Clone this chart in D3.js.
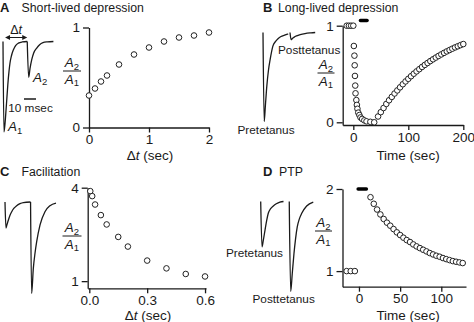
<!DOCTYPE html>
<html><head><meta charset="utf-8">
<script src="https://cdn.jsdelivr.net/npm/d3@7"></script>
<style>
body{margin:0;background:#fff;}
svg{display:block;font-family:"Liberation Sans",Arial,Helvetica,sans-serif;}
</style></head><body>
<svg id="c" width="474" height="322"></svg>
<script>
// ---------- Panel A: short-lived depression ----------
const aDt = [0, 0.1, 0.2, 0.3, 0.5, 0.75, 1, 1.25, 1.5, 1.75, 2];
const aRatio = [0.32, 0.39, 0.46, 0.52, 0.63, 0.73, 0.80, 0.86, 0.90, 0.92, 0.95];
const aXTicks = [0, 1, 2];
const aYTicks = [0, 1];

// ---------- Panel B: long-lived depression ----------
const bPreTime = [-12, -8, -4, 0];
const bPreRatio = [1, 1, 1, 1];
const bTetanus = [13, 25];
const bPostTime = [1, 2, 2.5, 3, 3.5, 4, 5.5, 6.5, 7.5, 9, 11, 13, 16, 20, 24, 31, 38,
  45, 50, 55, 60, 65, 70, 75, 80, 85, 90, 95, 100, 105, 110, 115, 120, 125, 130, 135, 140,
  145, 150, 155, 160, 165, 170, 175, 180, 185, 190, 195, 200];
const bPostRatio = [0.79, 0.69, 0.59, 0.48, 0.38, 0.30, 0.23, 0.18, 0.14, 0.10, 0.075, 0.05, 0.035, 0.02, 0.01, 0.005, 0.0,
  0.06, 0.105, 0.148, 0.19, 0.228, 0.263, 0.298, 0.33, 0.362, 0.394, 0.423, 0.45, 0.477, 0.503, 0.527, 0.55, 0.573, 0.594, 0.614, 0.634,
  0.652, 0.67, 0.687, 0.703, 0.719, 0.734, 0.748, 0.762, 0.775, 0.787, 0.799, 0.81];
const bXTicks = [0, 100, 200];
const bYTicks = [0, 1];

// ---------- Panel C: facilitation ----------
const cDt = [0.005, 0.015, 0.03, 0.06, 0.09, 0.15, 0.2, 0.3, 0.4, 0.5, 0.6];
const cRatio = [3.89, 3.73, 3.46, 3.12, 2.82, 2.42, 2.11, 1.66, 1.41, 1.23, 1.15];
const cXTicks = [0, 0.3, 0.6];
const cYTicks = [1, 4];

// ---------- Panel D: PTP ----------
const dPreTime = [-15, -10, -5];
const dPreRatio = [1, 1, 1];
const dTetanus = [-1, 9];
const dPostTime = [14, 18, 22, 26, 30, 34, 38, 42, 46, 50, 54, 58, 62, 66, 70, 74, 78, 82, 86, 90, 94, 98, 102, 106, 110, 114, 118, 122, 126];
const dPostRatio = [1.90, 1.82, 1.75, 1.69, 1.635, 1.59, 1.553, 1.512, 1.472, 1.439, 1.407, 1.378, 1.354, 1.325, 1.301, 1.28, 1.26, 1.24, 1.22, 1.203, 1.187, 1.175, 1.159, 1.146, 1.134, 1.122, 1.114, 1.106, 1.098];
const dXTicks = [0, 50, 100];
const dYTicks = [1, 2];

// ---------- Example current traces (ms, fraction of peak) ----------
const trA1Time = [0, 0.8, 1.6, 2.3, 3.1, 4, 5, 5.8, 7, 8.6, 10.5, 12.8, 16, 20.2];
const trA1Amp  = [0, 1, 0.92, 0.8, 0.65, 0.48, 0.33, 0.24, 0.16, 0.094, 0.045, 0.018, 0.005, 0];
const trA2Time = [20.2, 21.4, 22.5, 23.9, 25.5, 28.1, 30.5, 33.3, 37, 42];
const trA2Amp  = [0, 0.395, 0.30, 0.204, 0.13, 0.072, 0.035, 0.013, 0.004, 0];
const trBPreTime = [0, 1, 2, 3.2, 4.5, 6, 8.3, 10.5, 12.5, 15, 18, 21];
const trBPreAmp  = [0, 1, 0.82, 0.6, 0.43, 0.3, 0.15, 0.1, 0.07, 0.045, 0.03, 0.015];
const trBPostTime = [22.5, 23.4, 24.5, 26, 28, 31, 35, 40, 43.5];
const trBPostAmp  = [0, 0.08, 0.068, 0.052, 0.038, 0.024, 0.012, 0.004, 0];
const trC1Time = [0, 0.8, 1.6, 2.75, 4, 5.6, 7.5, 9.7, 12.5, 15.3, 21.3];
const trC1Amp  = [0, 0.285, 0.25, 0.2, 0.15, 0.106, 0.068, 0.04, 0.018, 0.006, 0];
const trC2Time = [21.3, 22.2, 23.6, 25, 26.4, 29.2, 33.3, 37.5, 42.5];
const trC2Amp  = [0, 1, 0.725, 0.56, 0.434, 0.25, 0.106, 0.04, 0.012];
const trDPreTime = [0, 1.1, 2.2, 3.6, 5, 6.3, 8.3, 10.5, 13, 16, 19];
const trDPreAmp  = [0, 0.505, 0.43, 0.317, 0.21, 0.131, 0.08, 0.05, 0.025, 0.006, 0];
const trDPostTime = [23.8, 25, 26.3, 27.75, 29, 30.5, 32.3, 34.2, 38.3, 43.8];
const trDPostAmp  = [0, 1, 0.8, 0.575, 0.42, 0.28, 0.19, 0.131, 0.05, 0.006];

const INK = "#1a1a1a";
const FS = "13.5px";
const svg = d3.select("#c");

function zip(a, b) { return a.map((v, i) => [v, b[i]]); }

function drawAxes(x, y, xTicks, yTicks, xFmt, yFmt) {
  const gx = svg.append("g").attr("transform", `translate(0,${y.range()[0]})`)
    .call(d3.axisBottom(x).tickValues(xTicks).tickFormat(xFmt).tickSize(5).tickSizeOuter(0).tickPadding(2));
  const gy = svg.append("g").attr("transform", `translate(${x.range()[0]},0)`)
    .call(d3.axisLeft(y).tickValues(yTicks).tickFormat(yFmt).tickSize(6).tickSizeOuter(0).tickPadding(3));
  [gx, gy].forEach(g => {
    g.selectAll("path,line").attr("stroke", INK).attr("stroke-width", 1.3);
    g.selectAll("text").attr("fill", INK).style("font-size", FS);
  });
  return [gx, gy];
}

function drawPoints(x, y, xs, ys) {
  svg.append("g").selectAll("circle").data(zip(xs, ys)).join("circle")
    .attr("cx", d => x(d[0])).attr("cy", d => y(d[1])).attr("r", 2.8)
    .attr("fill", "#fff").attr("stroke", "#222").attr("stroke-width", 1);
}

function drawBar(x, y, span, level) {
  svg.append("line").attr("x1", x(span[0])).attr("x2", x(span[1]))
    .attr("y1", y(level)).attr("y2", y(level))
    .attr("stroke", "#000").attr("stroke-width", 3.5).attr("stroke-linecap", "round");
}

function drawTrace(x, y, ts, as) {
  svg.append("path").datum(zip(ts, as))
    .attr("d", d3.line().x(d => x(d[0])).y(d => y(d[1])).curve(d3.curveMonotoneX))
    .attr("fill", "none").attr("stroke", INK).attr("stroke-width", 1.3);
}

function aSub(sel, sub) {
  sel.append("tspan").attr("font-style", "italic").text("A");
  sel.append("tspan").attr("dy", 2.5).style("font-size", "9.5px").text(sub);
}

function fraction(cx, lineY, halfW) {
  const t1 = svg.append("text").attr("x", cx).attr("y", lineY - 3.8).attr("text-anchor", "middle")
    .attr("fill", INK).style("font-size", FS);
  aSub(t1, "2");
  svg.append("line").attr("x1", cx - halfW).attr("x2", cx + halfW).attr("y1", lineY).attr("y2", lineY)
    .attr("stroke", INK).attr("stroke-width", 1);
  const t2 = svg.append("text").attr("x", cx).attr("y", lineY + 12.5).attr("text-anchor", "middle")
    .attr("fill", INK).style("font-size", FS);
  aSub(t2, "1");
}

function title(xLetter, xText, yBase, letter, txt) {
  svg.append("text").attr("x", xLetter).attr("y", yBase).attr("font-weight", "bold")
    .attr("fill", INK).style("font-size", "13px").text(letter);
  svg.append("text").attr("x", xText).attr("y", yBase)
    .attr("fill", INK).style("font-size", "12.3px").text(txt);
}

function label(x, yb, txt, anchor) {
  svg.append("text").attr("x", x).attr("y", yb).attr("text-anchor", anchor || "start")
    .attr("fill", INK).style("font-size", "11.8px").text(txt);
}

function dtTitle(cx, yb) {
  const t = svg.append("text").attr("x", cx).attr("y", yb).attr("text-anchor", "middle")
    .attr("fill", INK).style("font-size", FS);
  t.append("tspan").text("\u0394");
  t.append("tspan").attr("font-style", "italic").text("t");
  t.append("tspan").text(" (sec)");
}
function timeTitle(cx, yb) {
  svg.append("text").attr("x", cx).attr("y", yb).attr("text-anchor", "middle")
    .attr("fill", INK).style("font-size", FS).text("Time (sec)");
}

// ===== Panel A =====
title(0, 21.5, 11.5, "A", "Short-lived depression");
{
  const x = d3.scaleLinear().domain([0, 2]).range([89, 209]);
  const y = d3.scaleLinear().domain([0, 1]).range([127.5, 27.5]);
  drawAxes(x, y, aXTicks, aYTicks, d3.format("d"), d3.format("d"));
  drawPoints(x, y, aDt, aRatio);
  dtTitle(150, 159.5);
  fraction(72, 71, 9);
  const tx = d3.scaleLinear().domain([0, 10]).range([3, 15]);
  const ty = d3.scaleLinear().domain([0, 1]).range([41.5, 132]);
  drawTrace(tx, ty, trA1Time, trA1Amp);
  drawTrace(tx, ty, trA2Time, trA2Amp);
  const ay = 37.5, ax1 = tx(1.7), ax2 = tx(20.2);
  svg.append("line").attr("x1", ax1 + 2).attr("x2", ax2 - 2).attr("y1", ay).attr("y2", ay)
    .attr("stroke", INK).attr("stroke-width", 1);
  svg.append("path").attr("d", `M${ax1},${ay}l5,-2.5v5z M${ax2},${ay}l-5,-2.5v5z`).attr("fill", INK);
  const dt = svg.append("text").attr("x", (ax1 + ax2) / 2).attr("y", 33.5).attr("text-anchor", "middle")
    .attr("fill", INK).style("font-size", "12.5px");
  dt.append("tspan").text("\u0394");
  dt.append("tspan").attr("font-style", "italic").text("t");
  svg.append("line").attr("x1", tx(17.5)).attr("x2", tx(27.5)).attr("y1", 99).attr("y2", 99)
    .attr("stroke", INK).attr("stroke-width", 1.5);
  label(30.5, 111.5, "10 msec", "middle");
  const l2 = svg.append("text").attr("x", 33).attr("y", 82).attr("fill", INK).style("font-size", FS);
  aSub(l2, "2");
  const l1 = svg.append("text").attr("x", 8).attr("y", 131).attr("fill", INK).style("font-size", FS);
  aSub(l1, "1");
}

// ===== Panel B =====
title(263, 278, 11.5, "B", "Long-lived depression");
{
  const x = d3.scaleLinear().domain([-19.3, 200]).range([342.7, 463.3]);
  const y = d3.scaleLinear().domain([-0.028, 1]).range([125, 25.7]);
  drawAxes(x, y, bXTicks, bYTicks, d3.format("d"), d3.format("d"));
  drawBar(x, y, bTetanus, 1.055);
  drawPoints(x, y, bPreTime, bPreRatio);
  drawPoints(x, y, bPostTime, bPostRatio);
  timeTitle(408, 159.5);
  fraction(326, 73, 8.5);
  const tx = d3.scaleLinear().domain([0, 10]).range([263, 275]);
  const ty = d3.scaleLinear().domain([0, 1]).range([32.5, 121.5]);
  drawTrace(tx, ty, trBPreTime, trBPreAmp);
  drawTrace(tx, ty, trBPostTime, trBPostAmp);
  label(278, 53.5, "Posttetanus");
  label(237.5, 134, "Pretetanus");
}

// ===== Panel C =====
title(0, 21.5, 176, "C", "Facilitation");
{
  const x = d3.scaleLinear().domain([-0.0083, 0.605]).range([87.7, 206]);
  const y = d3.scaleLinear().domain([0.77, 4]).range([288.3, 187.7]);
  drawAxes(x, y, cXTicks, cYTicks, d3.format(".1f"), d3.format("d"));
  drawPoints(x, y, cDt, cRatio);
  dtTitle(148, 319.5);
  fraction(72, 236, 9.5);
  const tx = d3.scaleLinear().domain([0, 10]).range([5, 17]);
  const ty = d3.scaleLinear().domain([0, 1]).range([202, 293.5]);
  drawTrace(tx, ty, trC1Time, trC1Amp);
  drawTrace(tx, ty, trC2Time, trC2Amp);
}

// ===== Panel D =====
title(263, 279, 176, "D", "PTP");
{
  const x = d3.scaleLinear().domain([-20, 130]).range([342.5, 466]);
  const y = d3.scaleLinear().domain([0.81, 2]).range([286.7, 189]);
  drawAxes(x, y, dXTicks, dYTicks, d3.format("d"), d3.format("d"));
  drawBar(x, y, dTetanus, 2);
  drawPoints(x, y, dPreTime, dPreRatio);
  drawPoints(x, y, dPostTime, dPostRatio);
  timeTitle(408, 319.5);
  fraction(323.5, 231, 8.5);
  const tx = d3.scaleLinear().domain([0, 10]).range([260.7, 272.7]);
  const ty = d3.scaleLinear().domain([0, 1]).range([201.5, 291.5]);
  drawTrace(tx, ty, trDPreTime, trDPreAmp);
  drawTrace(tx, ty, trDPostTime, trDPostAmp);
  label(283, 257, "Pretetanus", "end");
  label(252.5, 303, "Posttetanus");
}
</script>
</body></html>
